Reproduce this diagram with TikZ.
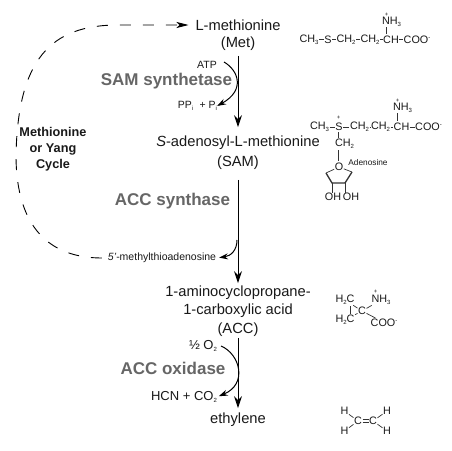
\documentclass[tikz,border=0pt]{standalone}
\usepackage{fontspec}
\setmainfont{Liberation Sans}
\usetikzlibrary{arrows.meta}
\definecolor{enzgray}{HTML}{666666}
\newcommand{\fs}[1]{\fontsize{#1}{#1}\selectfont}
\newcommand{\sbs}[1]{\raisebox{-0.35ex}{\fontsize{6}{6}\selectfont #1}}
\newcommand{\sps}[1]{\raisebox{0.7ex}{\fontsize{6}{6}\selectfont #1}}
\tikzset{
  x=1pt,y=-1pt,
  every node/.style={inner sep=0pt,outer sep=0pt,text=black!90},
  mol/.style={font=\fs{14.7},anchor=center},
  enz/.style={font=\fs{17}\bfseries,text=enzgray,anchor=center},
  cof/.style={font=\fs{10.5},anchor=center},
  cofb/.style={font=\fs{13},anchor=center},
  atom/.style={font=\fs{10.8},anchor=center,inner sep=0.6pt},
  tiny/.style={font=\fs{6}},
  bond/.style={line width=0.7pt,black!80},
  mainarrow/.style={line width=1pt,-{Stealth[length=12pt,width=8pt]}},
  sidearrow/.style={line width=1pt,-{Stealth[length=9pt,width=6pt,inset=3pt]}},
  cyclearrow/.style={line width=0.9pt,dash pattern=on 11pt off 12pt,-{Stealth[length=12pt,width=6pt,inset=3pt]}},
}
\begin{document}
\begin{tikzpicture}
\useasboundingbox (0,0) rectangle (452,450);
\fill[white] (0,0) rectangle (452,450);
% metabolites
\node[mol] (met) at (238,25) {L-methionine};
\node[mol] (metb) at (238,44) {(Met)};
\node[mol] (sam) at (238,143) {\textit{S}-adenosyl-L-methionine};
\node[mol] (samb) at (238,163) {(SAM)};
\node[mol] (acca) at (238,293) {1-aminocyclopropane-};
\node[mol] (accb) at (238,311) {1-carboxylic acid};
\node[mol] (accc) at (238,330) {(ACC)};
\node[mol] (eth) at (238,420) {ethylene};
% enzymes
\node[enz] (e1) at (166.5,81) {SAM synthetase};
\node[enz] (e2) at (172.5,201) {ACC synthase};
\node[enz] (e3) at (173,368) {ACC oxidase};
% cofactors
\node[cof] (atp) at (207,65) {ATP};
\node[cof] (ppi) at (197.5,106) {PP\sbs{i}\,\, + P\sbs{i}};
\node[cof] (mta) at (162,258) {\textit{5'}-methylthioadenosine};
\node[cofb] (o2) at (203,346) {½ O\sbs{2}};
\node[cofb] (hcn) at (184,397) {HCN + CO\sbs{2}};
\node[font=\fs{12.7}\bfseries,align=center] (cyc) at (53,149) {Methionine\\[3.2pt]or Yang\\[3.2pt]Cycle};
% main arrows
\draw[mainarrow,shorten <=5pt,shorten >=9pt] (metb) -- (sam);
\draw[mainarrow,shorten <=10pt,shorten >=3pt] (samb) -- (acca);
\draw[mainarrow,shorten <=1pt,shorten >=5pt] (accc) -- (eth);
\coordinate (sa1) at (224,62);
\draw[sidearrow] (sa1) .. controls (238,70) and (246,90) .. (ppi.east);
\coordinate (sa2) at (237,240);
\draw[sidearrow,shorten >=3pt] (sa2) .. controls (237,250) and (231,256) .. (mta.east);
\coordinate (sa3) at (221,346);
\draw[sidearrow,shorten >=2pt] (sa3) .. controls (240,354) and (248,384) .. (hcn.east);
% cycle
\draw[cyclearrow,shorten <=6pt,shorten >=7pt] (mta.west)
  .. controls (50,258) and (16,228) .. (16,155)
  .. controls (18,60) and (50,25) .. (118,25)
  -- (met.west);
% Met structure
\begin{scope}[every node/.append style={atom}]
\node (a1) at (309,39.5) {CH\sbs{3}};
\node (a2) at (328,39.5) {S};
\node (a3) at (346,39.5) {CH\sbs{2}};
\node (a4) at (370,39.5) {CH\sbs{2}};
\node (a5) at (391,39.5) {CH};
\node (a6) at (417,39.5) {COO\sps{-}};
\node (a7) at (391.5,22) {NH\sbs{3}};
\node[tiny] (a8) at (386.5,14.5) {+};
\draw[bond] (a1) -- (a2); \draw[bond] (a2) -- (a3); \draw[bond] (a3) -- (a4);
\draw[bond] (a4) -- (a5); \draw[bond] (a5) -- (a6);
\draw[bond] (386.5,27) -- (386.5,34);
% SAM structure
\node (b1) at (319.5,127) {CH\sbs{3}};
\node (b2) at (339,127) {S};
\node (b3) at (359.5,127) {CH\sbs{2}};
\node (b4) at (380.5,127) {CH\sbs{2}};
\node (b5) at (401.5,127) {CH};
\node (b6) at (428.5,127) {COO\sps{-}};
\node (b7) at (402.5,108) {NH\sbs{3}};
\node[tiny] (b8) at (397.5,100.5) {+};
\node[tiny] (b9) at (338.5,117.5) {+};
\node (b10) at (344.5,144) {CH\sbs{2}};
\node (b11) at (339,167) {O};
\node (b12) at (333,197) {OH};
\node (b13) at (351,197) {OH};
\node[font=\fs{8.3}] (b14) at (368,163) {Adenosine};
\draw[bond] (b1) -- (b2); \draw[bond] (b2) -- (b3); \draw[bond] (b3) -- (b4);
\draw[bond] (b4) -- (b5); \draw[bond] (b5) -- (b6);
\draw[bond] (397.5,113) -- (397.5,121);
\draw[bond] (338.5,132) -- (338.5,138);
\draw[bond] (338.5,150) -- (338.5,161);
\coordinate (r1) at (326,173); \coordinate (r2) at (332,183);
\coordinate (r3) at (345,183); \coordinate (r4) at (352,172);
\draw[bond] (b11) -- (r1);
\draw[bond] (r4) -- (b11);
\draw[line width=1.3pt,black!80] (r1) -- (r2) -- (r3) -- (r4);
\draw[bond] (r2) -- (b12.north -| r2);
\draw[bond] (r3) -- (b13.north -| r3);
% ACC structure
\node (c1) at (345,300) {H\sbs{2}C};
\node (c2) at (345,320) {H\sbs{2}C};
\node (c3) at (362,311) {C};
\node (c4) at (381,300) {NH\sbs{3}};
\node[tiny] (c5) at (375.5,291.5) {+};
\node (c6) at (384,322.5) {COO\sps{-}};
\draw[bond] (350,306) -- (350,314);
\draw[bond] (c1) -- (c3); \draw[bond] (c2) -- (c3);
\draw[bond] (c3) -- (c4); \draw[bond] (c3) -- (c6);
% ethylene
\node (d1) at (344.5,411) {H};
\node (d2) at (387,411) {H};
\node (d3) at (344.5,431) {H};
\node (d4) at (387,431) {H};
\node (d5) at (358,421) {C};
\node (d6) at (373,421) {C};
\draw[bond] (d1) -- (d5); \draw[bond] (d3) -- (d5);
\draw[bond] (d2) -- (d6); \draw[bond] (d4) -- (d6);
\draw[bond] ([yshift=-1.2pt]d5.east) -- ([yshift=-1.2pt]d6.west);
\draw[bond] ([yshift=1.2pt]d5.east) -- ([yshift=1.2pt]d6.west);
\end{scope}
\end{tikzpicture}
\end{document}
